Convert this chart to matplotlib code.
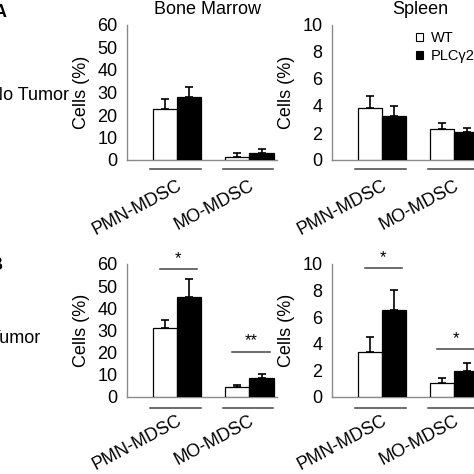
import matplotlib
matplotlib.use("Agg")
import matplotlib.pyplot as plt
import matplotlib.transforms as mtrans
from matplotlib.patches import Patch
import numpy as np

plt.rcParams['font.family'] = ['Liberation Sans', 'DejaVu Sans']

categories = ["PMN-MDSC", "MO-MDSC"]
groups = ["WT", "PLCγ2-/-"]
tissues = ["Bone Marrow", "Spleen"]
conditions = ["No Tumor", "Tumor"]
panel_letters = ["A", "B"]

# mean values (% cells) and upper error (SEM)
bm_notumor_wt = [22.5, 1.5]
bm_notumor_ko = [28.1, 3.0]
bm_notumor_wt_err = [4.5, 1.7]
bm_notumor_ko_err = [4.5, 1.7]

sp_notumor_wt = [3.83, 2.27]
sp_notumor_ko = [3.28, 2.07]
sp_notumor_wt_err = [0.93, 0.45]
sp_notumor_ko_err = [0.74, 0.32]

bm_tumor_wt = [31.2, 4.2]
bm_tumor_ko = [45.0, 8.3]
bm_tumor_wt_err = [3.5, 1.0]
bm_tumor_ko_err = [8.1, 1.8]

sp_tumor_wt = [3.35, 1.0]
sp_tumor_ko = [6.53, 1.96]
sp_tumor_wt_err = [1.17, 0.43]
sp_tumor_ko_err = [1.51, 0.60]

yticks_bm = [0, 10, 20, 30, 40, 50, 60]
yticks_sp = [0, 2, 4, 6, 8, 10]

# significance: (label, category index, bracket height)
sig_bm_tumor = [("*", 0, 57.6), ("**", 1, 20.4)]
sig_sp_tumor = [("*", 0, 9.72), ("*", 1, 3.57)]

W, H = 474, 474
fig = plt.figure(figsize=(W / 100, H / 100), dpi=100)

GREY = "#8a8a8a"
LINE = "#444444"
FS = 13


def fx(px):
    return px / W


def fy(py):
    return 1 - py / H


def make_axes(left_px, zero_px, top_px):
    return fig.add_axes([fx(left_px), fy(zero_px), 150 / W, (zero_px - top_px) / H])


def build(ax, wt, ko, wte, koe, yticks, label_dy, under_dy, sigs):
    x = np.arange(len(categories))
    w = 0.338
    ax.bar(x - w / 2, wt, width=w, color="white", edgecolor="black", linewidth=0.9, zorder=3)
    ax.bar(x + w / 2, ko, width=w, color="black", edgecolor="black", linewidth=0.9, zorder=3)
    ax.errorbar(x - w / 2, wt, yerr=[np.zeros(len(wt)), wte], fmt="none", ecolor="black",
                elinewidth=1.2, capsize=2.6, capthick=1.2, zorder=2)
    ax.errorbar(x + w / 2, ko, yerr=[np.zeros(len(ko)), koe], fmt="none", ecolor="black",
                elinewidth=1.2, capsize=2.6, capthick=1.2, zorder=2)
    ax.set_xlim(-0.69, 1.38)
    ax.set_ylim(yticks[0], yticks[-1])
    ax.set_yticks(yticks)
    ax.set_xticks([])
    ax.tick_params(axis="y", length=0, pad=7, labelsize=FS)
    for s in ["top", "right"]:
        ax.spines[s].set_visible(False)
    for s in ["left", "bottom"]:
        ax.spines[s].set_color(GREY)
        ax.spines[s].set_linewidth(1.0)
    ax.set_ylabel("Cells (%)", fontsize=FS, labelpad=5)
    off = mtrans.ScaledTranslation(0, -under_dy / 100, fig.dpi_scale_trans)
    trans = ax.get_xaxis_transform() + off
    for i, c in enumerate(categories):
        ax.plot([i - 0.37, i + 0.33], [0, 0], transform=trans, color=LINE, lw=1.1,
                clip_on=False)
        ax.annotate(c, xy=(i - 0.01, 0), xycoords=("data", "axes fraction"),
                    xytext=(0, -label_dy), textcoords="offset pixels",
                    rotation=28, rotation_mode="anchor", ha="right", va="top",
                    fontsize=FS, annotation_clip=False)
    for lab, i, yv in sigs:
        ax.plot([i - 0.24, i + 0.28], [yv, yv], color=LINE, lw=1.1, clip_on=False)
        ax.annotate(lab, xy=(i + 0.02, yv), xytext=(0, 3), textcoords="offset pixels",
                    ha="center", va="bottom", fontsize=12, annotation_clip=False)


axA1 = make_axes(127, 160, 25)
axA2 = make_axes(332, 160, 25)
axB1 = make_axes(127, 396.7, 264)
axB2 = make_axes(332, 396.7, 264)

build(axA1, bm_notumor_wt, bm_notumor_ko, bm_notumor_wt_err, bm_notumor_ko_err, yticks_bm, 17, 8.5, [])
build(axA2, sp_notumor_wt, sp_notumor_ko, sp_notumor_wt_err, sp_notumor_ko_err, yticks_sp, 17, 8.5, [])
build(axB1, bm_tumor_wt, bm_tumor_ko, bm_tumor_wt_err, bm_tumor_ko_err, yticks_bm, 15.5, 11, sig_bm_tumor)
build(axB2, sp_tumor_wt, sp_tumor_ko, sp_tumor_wt_err, sp_tumor_ko_err, yticks_sp, 15.5, 11, sig_sp_tumor)

# titles
fig.text(fx(207.5), fy(13.5), tissues[0], ha="center", va="baseline", fontsize=FS)
fig.text(fx(420), fy(14), tissues[1], ha="center", va="baseline", fontsize=FS)

# row labels
fig.text(fx(-10), fy(100), conditions[0], ha="left", va="baseline", fontsize=FS)
fig.text(fx(-10), fy(343), conditions[1], ha="left", va="baseline", fontsize=FS)
fig.text(fx(-6), fy(17), panel_letters[0], ha="left", va="baseline", fontsize=FS, fontweight="bold")
fig.text(fx(-10), fy(270), panel_letters[1], ha="left", va="baseline", fontsize=FS, fontweight="bold")

# legend
handles = [Patch(facecolor="white", edgecolor="black", linewidth=0.8),
           Patch(facecolor="black", edgecolor="black", linewidth=0.8)]
fig.legend(handles, groups, loc="upper left", bbox_to_anchor=(fx(415.5), fy(31)),
           frameon=False, fontsize=10.5, handlelength=0.5, handleheight=0.5,
           handletextpad=0.55, labelspacing=0.3, borderpad=0, borderaxespad=0)

fig.savefig("out.png", dpi=100)
